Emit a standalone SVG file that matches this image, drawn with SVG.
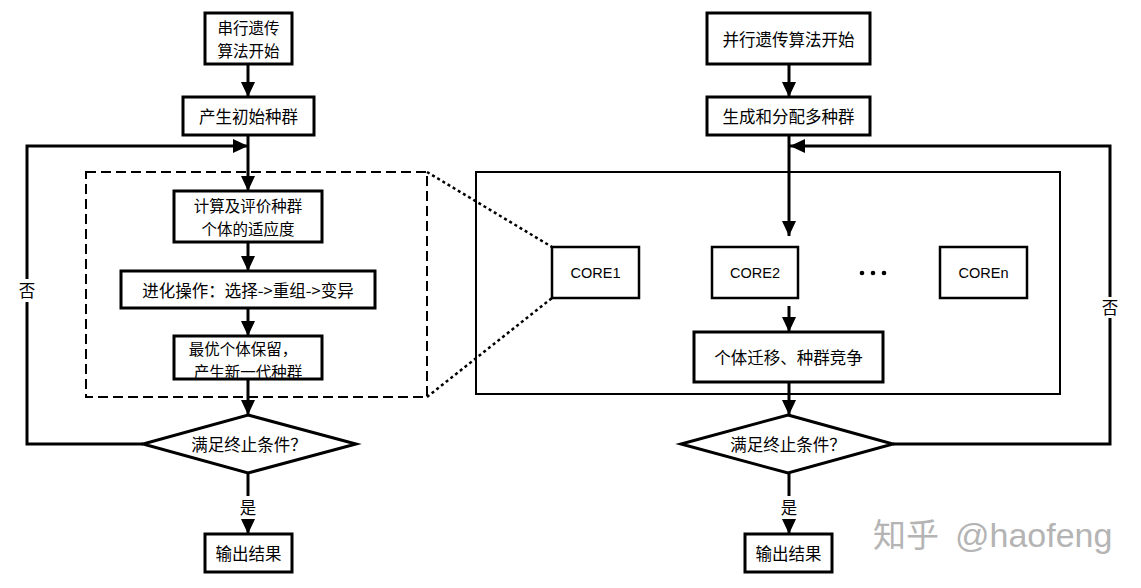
<svg xmlns="http://www.w3.org/2000/svg" width="1141" height="588" viewBox="0 0 1141 588">
<defs>
<marker id="arr" markerUnits="userSpaceOnUse" markerWidth="15" markerHeight="14" refX="15" refY="7" orient="auto">
<path d="M0,0 L15,7 L0,14 z" fill="#000"/>
</marker>
<style>
.box{fill:#fff;stroke:#000;stroke-width:3}
.core{fill:#fff;stroke:#000;stroke-width:2.5}
.t{font-family:"Noto Sans CJK SC","Noto Sans",sans-serif;font-size:16.5px;fill:#000;text-anchor:middle;dominant-baseline:central}
.t2{font-family:"Noto Sans CJK SC","Noto Sans",sans-serif;font-size:15.5px;fill:#000;text-anchor:middle;dominant-baseline:central}
.c{font-family:"Liberation Sans","Noto Sans",sans-serif;font-size:14.5px;fill:#000;text-anchor:middle;dominant-baseline:central}
.ln{fill:none;stroke:#000;stroke-width:3}
.ar{fill:none;stroke:#000;stroke-width:3;marker-end:url(#arr)}
</style>
</defs>
<rect width="1141" height="588" fill="#fff"/>

<g id="frames">
<rect x="86" y="172" width="341" height="225" fill="none" stroke="#000" stroke-width="2" stroke-dasharray="10,5"/>
<rect x="476" y="172" width="584" height="222" fill="none" stroke="#000" stroke-width="2"/>
<line x1="427" y1="172" x2="552" y2="247" stroke="#000" stroke-width="2.5" stroke-dasharray="3,3"/>
<line x1="427" y1="397" x2="552" y2="298" stroke="#000" stroke-width="2.5" stroke-dasharray="3,3"/>
</g>

<g id="connectors">
<line class="ar" x1="248" y1="64" x2="248" y2="97"/>
<line class="ar" x1="248" y1="135" x2="248" y2="191"/>
<line class="ar" x1="248" y1="242" x2="248" y2="271"/>
<line class="ar" x1="248" y1="308" x2="248" y2="336"/>
<line class="ar" x1="248" y1="379" x2="248" y2="415"/>
<polyline class="ln" points="143,444 27,444 27,302"/>
<polyline class="ar" points="27,279 27,146 248,146"/>
<line class="ln" x1="248" y1="473" x2="248" y2="496"/>
<line class="ar" x1="248" y1="519" x2="248" y2="534"/>

<line class="ar" x1="789" y1="64" x2="789" y2="97"/>
<line class="ar" x1="789" y1="135" x2="789" y2="236"/>
<line class="ar" x1="789" y1="306" x2="789" y2="332"/>
<line class="ar" x1="789" y1="382" x2="789" y2="415"/>
<polyline class="ln" points="893,444 1110,444 1110,318"/>
<polyline class="ar" points="1110,297 1110,146 790,146"/>
<line class="ln" x1="789" y1="473" x2="789" y2="496"/>
<line class="ar" x1="789" y1="519" x2="789" y2="534"/>
</g>

<g id="labels">
<text class="t" x="27" y="290">否</text>
<text class="t" x="248" y="507">是</text>
<text class="t" x="1110" y="307">否</text>
<text class="t" x="789" y="507">是</text>
</g>

<g id="s_start"><rect class="box" x="205" y="13" width="87" height="51"/>
<text class="t2" x="248.5" y="27">串行遗传</text><text class="t2" x="248.5" y="50">算法开始</text></g>
<g id="s_init"><rect class="box" x="183" y="97" width="131" height="38"/>
<text class="t" x="248.5" y="116">产生初始种群</text></g>
<g id="s_eval"><rect class="box" x="174" y="191" width="148" height="51"/>
<text class="t2" x="248" y="204.5">计算及评价种群</text><text class="t2" x="248" y="227.5">个体的适应度</text></g>
<g id="s_evo"><rect class="box" x="121" y="271" width="254" height="37"/>
<text class="t" x="248" y="289.5">进化操作：选择-&gt;重组-&gt;变异</text></g>
<g id="s_keep"><rect class="box" x="174" y="336" width="148" height="43"/>
<text class="t2" x="243" y="348">最优个体保留，</text><text class="t2" x="248" y="371">产生新一代种群</text></g>
<g id="s_cond"><polygon points="248,415 356,444 248,473 143,444" fill="#fff" stroke="#000" stroke-width="3"/>
<text class="t" x="249" y="444">满足终止条件？</text></g>
<g id="s_out"><rect class="box" x="205" y="534" width="87" height="38"/>
<text class="t" x="248.5" y="553">输出结果</text></g>

<g id="p_start"><rect class="box" x="707" y="13" width="163" height="51"/>
<text class="t" x="788.5" y="38.5">并行遗传算法开始</text></g>
<g id="p_init"><rect class="box" x="707" y="97" width="163" height="38"/>
<text class="t" x="788.5" y="116">生成和分配多种群</text></g>
<g id="core1"><rect class="core" x="552" y="247" width="87" height="51"/>
<text class="c" x="595.5" y="272.5">CORE1</text></g>
<g id="core2"><rect class="core" x="712" y="247" width="86" height="51"/>
<text class="c" x="755" y="272.5">CORE2</text></g>
<g id="dots"><circle cx="862" cy="273" r="2.3"/><circle cx="873" cy="273" r="2.3"/><circle cx="884" cy="273" r="2.3"/></g>
<g id="coren"><rect class="core" x="940" y="247" width="87" height="51"/>
<text class="c" x="983.5" y="272.5">COREn</text></g>
<g id="p_mig"><rect class="box" x="694" y="332" width="189" height="50"/>
<text class="t" x="788.5" y="357">个体迁移、种群竞争</text></g>
<g id="p_cond"><polygon points="788,415 893,444 788,473 681,444" fill="#fff" stroke="#000" stroke-width="3"/>
<text class="t" x="788" y="444">满足终止条件？</text></g>
<g id="p_out"><rect class="box" x="745" y="534" width="87" height="38"/>
<text class="t" x="788.5" y="553">输出结果</text></g>

<g id="watermark">
<text x="873" y="547" font-family="Noto Sans CJK SC,sans-serif" font-size="33" fill="#b4b4b4">知乎</text>
<text x="955" y="547" font-family="Liberation Sans,sans-serif" font-size="34" fill="#b4b4b4">@haofeng</text>
</g>
</svg>
